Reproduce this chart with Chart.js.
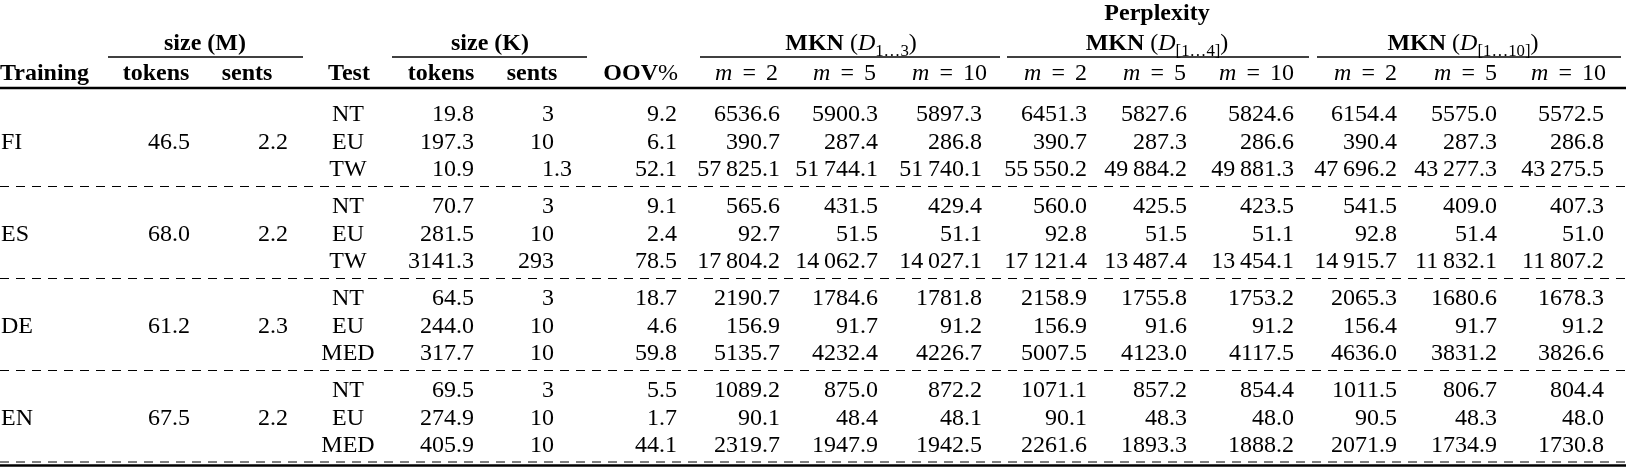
<!DOCTYPE html>
<html>
<head>
<meta charset="utf-8">
<script src="https://cdn.jsdelivr.net/npm/chart.js@4.4.0/dist/chart.umd.min.js"></script>
<style>
  html, body { margin: 0; padding: 0; background: #fff; }
  #wrap { width: 1630px; height: 468px; }
</style>
</head>
<body>
<div id="wrap"><canvas id="tbl"></canvas></div>
<script>
// Table data
const training = ['FI', 'ES', 'DE', 'EN'];
const trainTokens = [46.5, 68.0, 61.2, 67.5];
const trainSents = [2.2, 2.2, 2.3, 2.2];

const testSets = ['NT', 'EU', 'TW', 'NT', 'EU', 'TW', 'NT', 'EU', 'MED', 'NT', 'EU', 'MED'];
const testTokens = [19.8, 197.3, 10.9, 70.7, 281.5, 3141.3, 64.5, 244.0, 317.7, 69.5, 274.9, 405.9];
const testSents = [3, 10, 1.3, 3, 10, 293, 3, 10, 10, 3, 10, 10];
const oovPct = [9.2, 6.1, 52.1, 9.1, 2.4, 78.5, 18.7, 4.6, 59.8, 5.5, 1.7, 44.1];

const mkn3_m2 = [6536.6, 390.7, 57825.1, 565.6, 92.7, 17804.2, 2190.7, 156.9, 5135.7, 1089.2, 90.1, 2319.7];
const mkn3_m5 = [5900.3, 287.4, 51744.1, 431.5, 51.5, 14062.7, 1784.6, 91.7, 4232.4, 875.0, 48.4, 1947.9];
const mkn3_m10 = [5897.3, 286.8, 51740.1, 429.4, 51.1, 14027.1, 1781.8, 91.2, 4226.7, 872.2, 48.1, 1942.5];
const mkn4_m2 = [6451.3, 390.7, 55550.2, 560.0, 92.8, 17121.4, 2158.9, 156.9, 5007.5, 1071.1, 90.1, 2261.6];
const mkn4_m5 = [5827.6, 287.3, 49884.2, 425.5, 51.5, 13487.4, 1755.8, 91.6, 4123.0, 857.2, 48.3, 1893.3];
const mkn4_m10 = [5824.6, 286.6, 49881.3, 423.5, 51.1, 13454.1, 1753.2, 91.2, 4117.5, 854.4, 48.0, 1888.2];
const mkn10_m2 = [6154.4, 390.4, 47696.2, 541.5, 92.8, 14915.7, 2065.3, 156.4, 4636.0, 1011.5, 90.5, 2071.9];
const mkn10_m5 = [5575.0, 287.3, 43277.3, 409.0, 51.4, 11832.1, 1680.6, 91.7, 3831.2, 806.7, 48.3, 1734.9];
const mkn10_m10 = [5572.5, 286.8, 43275.5, 407.3, 51.0, 11807.2, 1678.3, 91.2, 3826.6, 804.4, 48.0, 1730.8];

// Layout (units of the 1630 x 468 frame)
const FONT = '"Liberation Serif", "Times New Roman", serif';
const NUM_SIZE = 24;
const HEAD_SIZE = 24;
const INK = '#000';
const firstRowY = 113, rowPitch = 27.5, blockPitch = 92;
const rowY = i => firstRowY + Math.floor(i / 3) * blockPitch + (i % 3) * rowPitch;

// Number formatting: one decimal, thin-space grouping for 5+ integer digits
function fmt(v, keepInt) {
  let s = keepInt && Number.isInteger(v) ? String(v) : v.toFixed(1);
  let [ip, fp] = s.split('.');
  if (ip.length >= 5) ip = ip.replace(/\B(?=(\d{3})+(?!\d))/g, '\u2009');
  return fp !== undefined ? ip + '.' + fp : ip;
}

// Columns: x is the right edge of a one-decimal number (or centre / left edge for text)
const columns = [
  { values: training, x: 1, align: 'left', perBlock: true },
  { values: trainTokens, x: 190, align: 'dec', perBlock: true },
  { values: trainSents, x: 288, align: 'dec', perBlock: true },
  { values: testSets, x: 348, align: 'center' },
  { values: testTokens, x: 474, align: 'dec' },
  { values: testSents, x: 572, align: 'dec', keepInt: true },
  { values: oovPct, x: 677, align: 'dec' },
  { values: mkn3_m2, x: 780, align: 'dec' },
  { values: mkn3_m5, x: 878, align: 'dec' },
  { values: mkn3_m10, x: 982, align: 'dec' },
  { values: mkn4_m2, x: 1087, align: 'dec' },
  { values: mkn4_m5, x: 1187, align: 'dec' },
  { values: mkn4_m10, x: 1294, align: 'dec' },
  { values: mkn10_m2, x: 1397, align: 'dec' },
  { values: mkn10_m5, x: 1497, align: 'dec' },
  { values: mkn10_m10, x: 1604, align: 'dec' }
];

// Header cells: runs of styled text (gap = extra space in em)
const B = t => ({ t, f: 'bold' });
const R = t => ({ t, f: '' });
const I = t => ({ t, f: 'italic' });
const S = t => ({ t, f: '', sub: true });
const G = g => ({ t: '', f: '', gap: g });
const mEq = n => [I('m'), G(0.42), R('='), G(0.42), R(String(n))];
const headers = [
  { x: 1157, y: 12, align: 'center', runs: [B('Perplexity')] },
  { x: 205, y: 42, align: 'center', runs: [B('size (M)')] },
  { x: 490, y: 42, align: 'center', runs: [B('size (K)')] },
  { x: 851, y: 42, align: 'center', runs: [B('MKN'), R(' ('), I('D'), S('1…3'), R(')')] },
  { x: 1157, y: 42, align: 'center', runs: [B('MKN'), R(' ('), I('D'), S('[1…4]'), R(')')] },
  { x: 1463, y: 42, align: 'center', runs: [B('MKN'), R(' ('), I('D'), S('[1…10]'), R(')')] },
  { x: 0, y: 72, align: 'left', runs: [B('Training')] },
  { x: 156, y: 72, align: 'center', runs: [B('tokens')] },
  { x: 247, y: 72, align: 'center', runs: [B('sents')] },
  { x: 349, y: 72, align: 'center', runs: [B('Test')] },
  { x: 441, y: 72, align: 'center', runs: [B('tokens')] },
  { x: 532, y: 72, align: 'center', runs: [B('sents')] },
  { x: 678, y: 72, align: 'right', runs: [B('OOV'), R('%')] },
  { x: 778, y: 72, align: 'right', runs: mEq(2) },
  { x: 876, y: 72, align: 'right', runs: mEq(5) },
  { x: 987, y: 72, align: 'right', runs: mEq(10) },
  { x: 1087, y: 72, align: 'right', runs: mEq(2) },
  { x: 1186, y: 72, align: 'right', runs: mEq(5) },
  { x: 1294, y: 72, align: 'right', runs: mEq(10) },
  { x: 1397, y: 72, align: 'right', runs: mEq(2) },
  { x: 1497, y: 72, align: 'right', runs: mEq(5) },
  { x: 1606, y: 72, align: 'right', runs: mEq(10) }
];

// Rules
const cmidrules = [[108, 303], [392, 587], [700, 1000], [1007, 1309], [1317, 1621]];
const cmidY = 57, midY = 88, bottomY = 465.5, tableLeft = 0, tableRight = 1626;
const dashYs = [rowY(2) + 18.5, rowY(5) + 18.5, rowY(8) + 18.5, 462];

function runFont(r, size) {
  const sz = r.sub ? size * 0.7 : size;
  return (r.f ? r.f + ' ' : '') + sz + 'px ' + FONT;
}

function runWidth(ctx, r, size) {
  if (r.gap) return r.gap * size;
  ctx.font = runFont(r, size);
  return ctx.measureText(r.t).width;
}

function drawRuns(ctx, runs, x, y, align, size) {
  let w = 0;
  runs.forEach(r => { w += runWidth(ctx, r, size); });
  let cx = align === 'center' ? x - w / 2 : align === 'right' ? x - w : x;
  ctx.textAlign = 'left';
  runs.forEach(r => {
    const rw = runWidth(ctx, r, size);
    if (!r.gap) {
      ctx.font = runFont(r, size);
      ctx.fillText(r.t, cx, y + size * 0.34 + (r.sub ? size * 0.25 : 0));
    }
    cx += rw;
  });
}

const tablePlugin = {
  id: 'tablePlugin',
  afterDatasetsDraw(chart) {
    const ctx = chart.ctx;
    const xs = chart.scales.x, ys = chart.scales.y;
    ctx.save();
    ctx.fillStyle = INK;
    ctx.textBaseline = 'alphabetic';

    // body cells, positioned by the library from each dataset point
    chart.data.datasets.forEach((ds, di) => {
      const col = columns[di];
      const meta = chart.getDatasetMeta(di);
      ctx.font = NUM_SIZE + 'px ' + FONT;
      const fracW = ctx.measureText('.0').width;
      meta.data.forEach((pt, j) => {
        const text = ds.data[j].text;
        const by = pt.y + NUM_SIZE * 0.34;
        if (col.align === 'dec') {
          const dot = text.indexOf('.');
          const ip = dot < 0 ? text : text.slice(0, dot);
          const dp = pt.x - fracW;
          ctx.textAlign = 'right';
          ctx.fillText(ip, dp, by);
          if (dot >= 0) {
            ctx.textAlign = 'left';
            ctx.fillText(text.slice(dot), dp, by);
          }
        } else {
          ctx.textAlign = col.align;
          ctx.fillText(text, pt.x, by);
        }
      });
    });

    // header cells
    headers.forEach(h => {
      drawRuns(ctx, h.runs, xs.getPixelForValue(h.x), ys.getPixelForValue(h.y), h.align, HEAD_SIZE);
    });

    // rules
    ctx.strokeStyle = INK;
    ctx.lineWidth = 1.3;
    cmidrules.forEach(([a, b]) => {
      ctx.beginPath();
      ctx.moveTo(xs.getPixelForValue(a), ys.getPixelForValue(cmidY));
      ctx.lineTo(xs.getPixelForValue(b), ys.getPixelForValue(cmidY));
      ctx.stroke();
    });
    ctx.lineWidth = 2.4;
    [midY, bottomY].forEach(yv => {
      ctx.beginPath();
      ctx.moveTo(xs.getPixelForValue(tableLeft), ys.getPixelForValue(yv));
      ctx.lineTo(xs.getPixelForValue(tableRight), ys.getPixelForValue(yv));
      ctx.stroke();
    });
    ctx.lineWidth = 1.2;
    ctx.setLineDash([9, 7]);
    dashYs.forEach(yv => {
      ctx.beginPath();
      ctx.moveTo(xs.getPixelForValue(tableLeft), ys.getPixelForValue(yv));
      ctx.lineTo(xs.getPixelForValue(tableRight), ys.getPixelForValue(yv));
      ctx.stroke();
    });
    ctx.restore();
  }
};

// One scatter dataset per table column; each cell is an invisible point
const datasets = columns.map(col => ({
  data: col.values.map((v, i) => ({
    x: col.x,
    y: col.perBlock ? rowY(i * 3 + 1) : rowY(i),
    text: typeof v === 'string' ? v : fmt(v, col.keepInt)
  })),
  pointRadius: 0,
  pointHoverRadius: 0,
  showLine: false
}));

new Chart(document.getElementById('tbl'), {
  type: 'scatter',
  data: { datasets },
  options: {
    responsive: true,
    maintainAspectRatio: false,
    animation: false,
    layout: { padding: 0 },
    plugins: { legend: { display: false }, tooltip: { enabled: false } },
    scales: {
      x: { type: 'linear', min: 0, max: 1630, display: false },
      y: { type: 'linear', min: 0, max: 468, reverse: true, display: false }
    }
  },
  plugins: [tablePlugin]
});
</script>
</body>
</html>
